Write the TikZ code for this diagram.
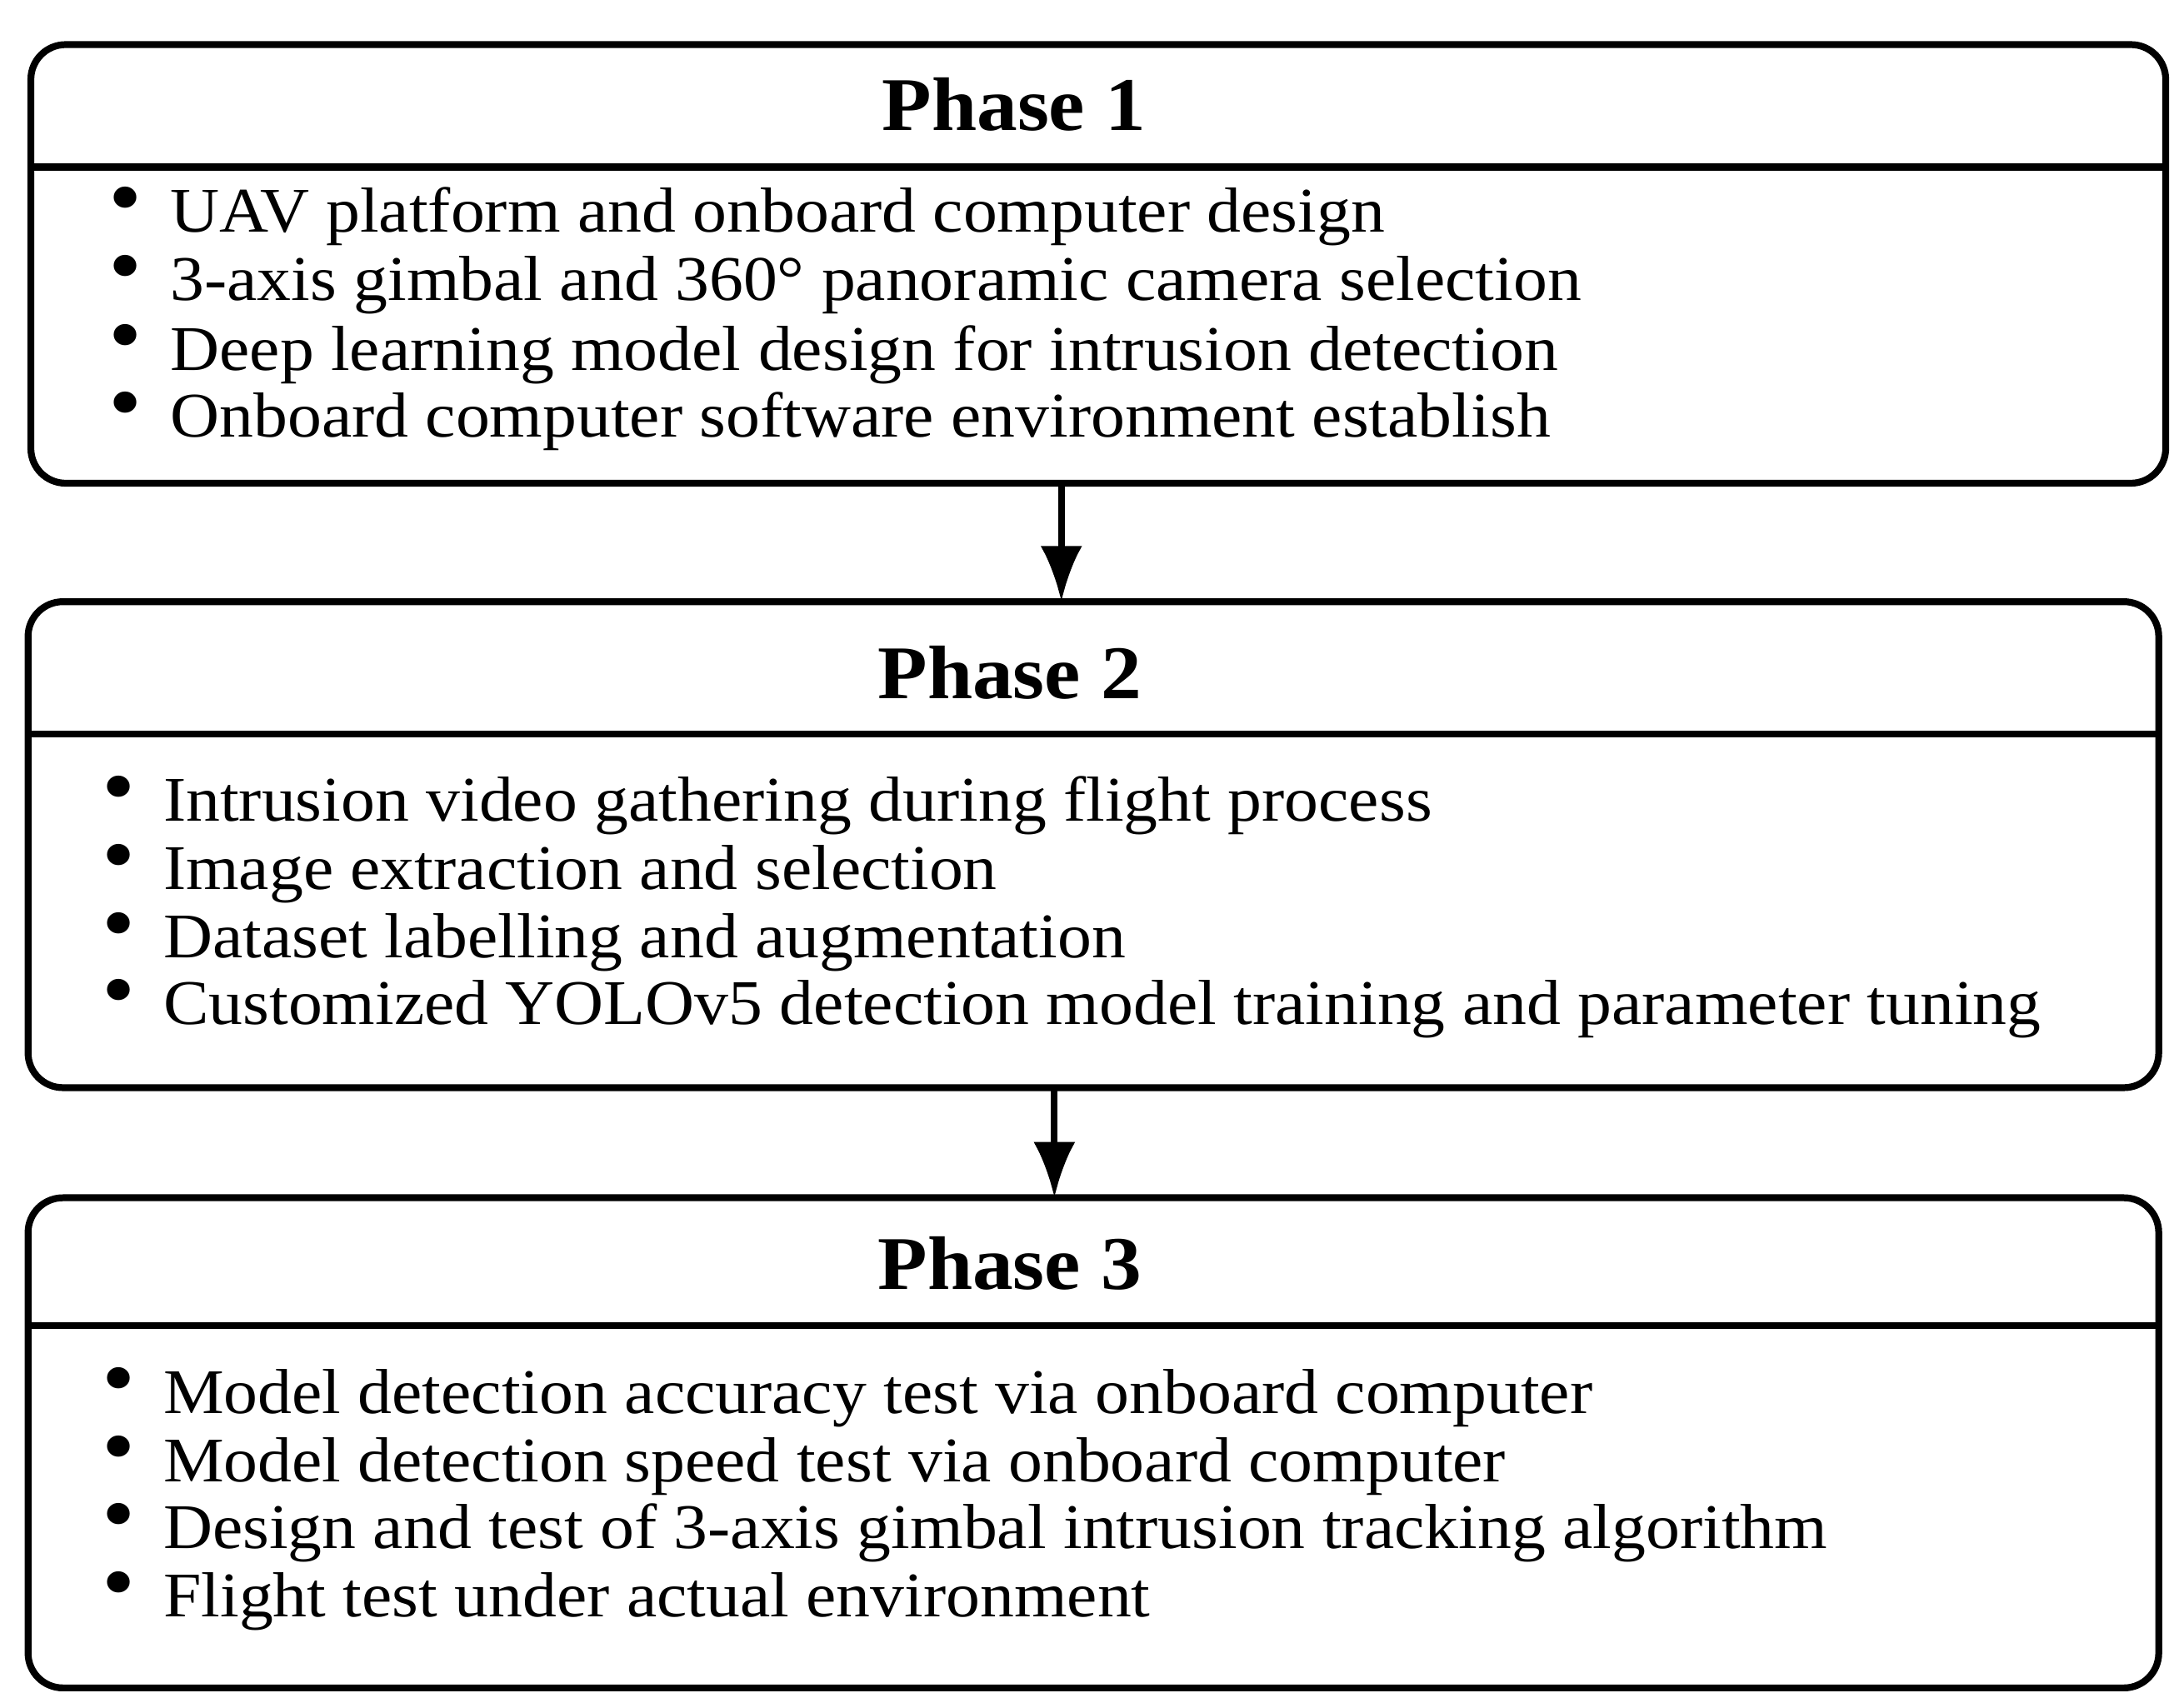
\documentclass[tikz,border=0pt]{standalone}
\usepackage{fontspec}
\setmainfont{Liberation Serif}[FakeStretch=1.07]
\usetikzlibrary{arrows.meta}
\begin{document}
\begin{tikzpicture}[x=0.02cm,y=-0.02cm,
  box/.style={draw,line width=2.8pt,rounded corners=0.5cm,inner sep=0},
  ttl/.style={font=\fontsize{31}{34}\selectfont\bfseries},
  itm/.style={anchor=west,inner sep=0,text height=0.55cm,text depth=0.2cm,font=\fontsize{26}{30}\selectfont},
  bul/.style={inner sep=0,text height=0.2cm,text depth=0cm,font=\fontsize{26}{30}\selectfont},
  arr/.style={line width=2.8pt,-{Latex[length=0.8cm,width=0.6cm]}}]
\useasboundingbox (0,0) rectangle (1568,1226);
\node[box,minimum width=30.66cm,minimum height=6.3cm] (p1) at (788.5,189.5) {};
\node[box,minimum width=30.6cm,minimum height=6.98cm] (p2) at (785,606.5) {};
\node[box,minimum width=30.6cm,minimum height=7.04cm] (p3) at (785,1036) {};
\draw[line width=2.8pt] (22,120) -- (1555,120);
\draw[line width=2.8pt] (20,527) -- (1550,527);
\draw[line width=2.8pt] (20,952) -- (1550,952);
\node[ttl] (t1) at (728,75) {Phase 1};
\node[ttl] (t2) at (725,483) {Phase 2};
\node[ttl] (t3) at (725,907) {Phase 3};
\coordinate (a1s) at (762,347); \coordinate (a1e) at (762,432);
\coordinate (a2s) at (757,781); \coordinate (a2e) at (757,860);
\draw[arr] (a1s) -- (a1e);
\draw[arr] (a2s) -- (a2e);
\foreach \y/\t [count=\i] in {158/UAV platform and onboard computer design,207/3-axis gimbal and 360° panoramic camera selection,257/Deep learning model design for intrusion detection,305/Onboard computer software environment establish}{
  \node[bul] (b1\i) at (90,\y) {\scalebox{1.4}{•}};
  \node[itm] (l1\i) at (122,\y) {\t};}
\foreach \y/\t [count=\i] in {581/Intrusion video gathering during flight process,630/Image extraction and selection,679/Dataset labelling and augmentation,727/Customized YOLOv5 detection model training and parameter tuning}{
  \node[bul] (b2\i) at (85,\y) {\scalebox{1.4}{•}};
  \node[itm] (l2\i) at (117,\y) {\t};}
\foreach \y/\t [count=\i] in {1006/Model detection accuracy test via onboard computer,1055/Model detection speed test via onboard computer,1103/Design and test of 3-axis gimbal intrusion tracking algorithm,1152/Flight test under actual environment}{
  \node[bul] (b3\i) at (85,\y) {\scalebox{1.4}{•}};
  \node[itm] (l3\i) at (117,\y) {\t};}
\end{tikzpicture}
\end{document}
